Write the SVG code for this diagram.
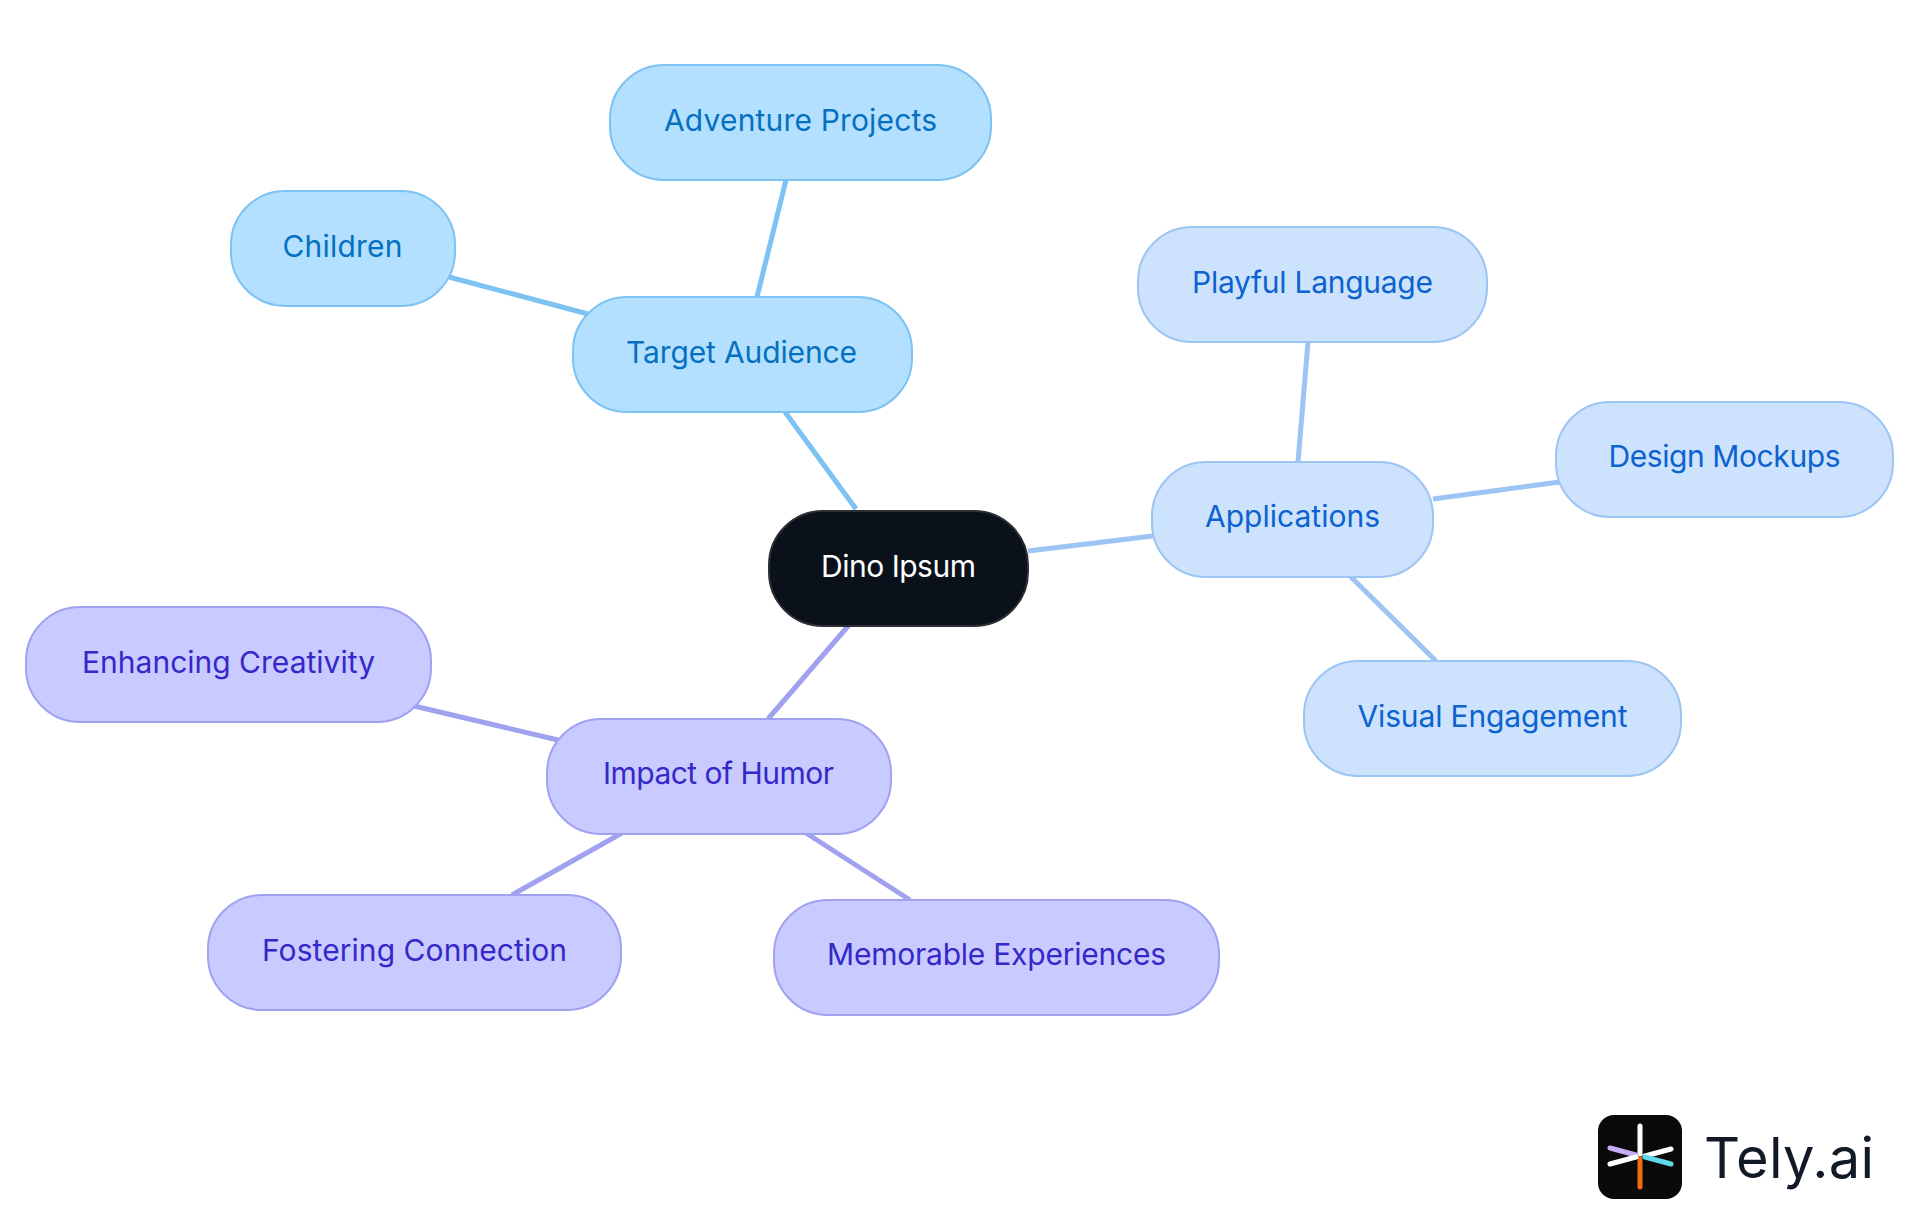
<svg xmlns="http://www.w3.org/2000/svg" width="1920" height="1215" viewBox="0 0 1920 1215">
<style>
text{font-family:Inter,"Noto Sans","Liberation Sans",sans-serif;font-size:30px;text-anchor:middle;dominant-baseline:central}
.n rect{stroke-width:2;rx:54px;ry:54px}
.a rect{fill:#b3e0ff;stroke:#7cc2f2}.a text{fill:#0670c0}
.b rect{fill:#cce2fd;stroke:#9cc5f3}.b text{fill:#0c62cf}
.c rect{fill:#c9caff;stroke:#a0a2f0}.c text{fill:#3528c8}
#conn line{stroke-width:5}
.ca{stroke:#7cc2f2}.cb{stroke:#9cc5f3}.cc{stroke:#a0a2f0}
</style>
<rect width="1920" height="1215" fill="#fff"/>
<g id="conn">
<line class="ca" x1="856" y1="509" x2="785" y2="412"/>
<line class="ca" x1="757" y1="297" x2="786" y2="180"/>
<line class="ca" x1="588" y1="314" x2="449" y2="277"/>
<line class="cb" x1="1028" y1="551" x2="1153" y2="536"/>
<line class="cb" x1="1298" y1="462" x2="1308" y2="342"/>
<line class="cb" x1="1433" y1="499" x2="1560" y2="482"/>
<line class="cb" x1="1350" y1="576" x2="1436" y2="661"/>
<line class="cc" x1="849" y1="625" x2="768" y2="719"/>
<line class="cc" x1="558" y1="740" x2="414" y2="706"/>
<line class="cc" x1="622" y1="833" x2="512" y2="895"/>
<line class="cc" x1="806" y1="833" x2="910" y2="900"/>
</g>
<g id="root" class="n"><rect x="769" y="511" width="259" height="115" fill="#0a111a" stroke="#2c3036"/><text x="898.500" y="566" fill="#fff" textLength="155">Dino Ipsum</text></g>
<g id="target" class="n a"><rect x="573" y="297" width="339" height="115"/><text x="741.500" y="352" textLength="231">Target Audience</text></g>
<g id="adventure" class="n a"><rect x="610" y="65" width="381" height="115"/><text x="800.500" y="120" textLength="273">Adventure Projects</text></g>
<g id="children" class="n a"><rect x="231" y="191" width="224" height="115"/><text x="342.500" y="246" textLength="120">Children</text></g>
<g id="applications" class="n b"><rect x="1152" y="462" width="281" height="115"/><text x="1292.500" y="516" textLength="175">Applications</text></g>
<g id="playful" class="n b"><rect x="1138" y="227" width="349" height="115"/><text x="1312.500" y="282" textLength="241">Playful Language</text></g>
<g id="design" class="n b"><rect x="1556" y="402" width="337" height="115"/><text x="1724.500" y="456" textLength="232">Design Mockups</text></g>
<g id="visual" class="n b"><rect x="1304" y="661" width="377" height="115"/><text x="1492.500" y="716" textLength="270">Visual Engagement</text></g>
<g id="impact" class="n c"><rect x="547" y="719" width="344" height="115"/><text x="718.500" y="773" textLength="231">Impact of Humor</text></g>
<g id="enhancing" class="n c"><rect x="26" y="607" width="405" height="115"/><text x="228.500" y="662" textLength="293">Enhancing Creativity</text></g>
<g id="fostering" class="n c"><rect x="208" y="895" width="413" height="115"/><text x="414.500" y="950" textLength="305">Fostering Connection</text></g>
<g id="memorable" class="n c"><rect x="774" y="900" width="445" height="115"/><text x="996.500" y="954" textLength="339">Memorable Experiences</text></g>
<g id="logo">
<rect x="1598" y="1115" width="84" height="84" rx="16" fill="#0a0a0a"/>
<g stroke-width="5" stroke-linecap="round">
<line x1="1640" y1="1126" x2="1640" y2="1154" stroke="#fff"/>
<line x1="1640" y1="1159" x2="1640" y2="1187" stroke="#f26b10"/>
<line x1="1610" y1="1148" x2="1636" y2="1155" stroke="#c4aef5"/>
<line x1="1610" y1="1164" x2="1636" y2="1157" stroke="#fff"/>
<line x1="1671" y1="1149" x2="1645" y2="1156" stroke="#fff"/>
<line x1="1671" y1="1164" x2="1645" y2="1157" stroke="#5fd8ea"/>
</g>
<text x="1704" y="1178" textLength="170" style="font-size:56px;fill:#111a26;text-anchor:start;dominant-baseline:alphabetic">Tely.ai</text>
</g>
</svg>
